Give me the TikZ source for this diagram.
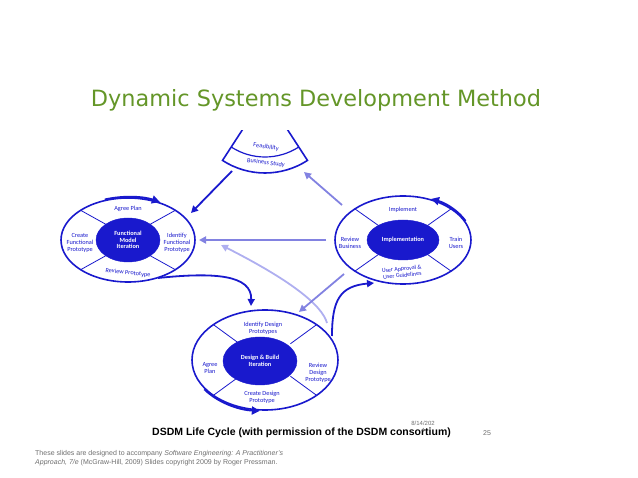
\documentclass[tikz,border=0pt]{standalone}
\usepackage{fontspec}
\setmainfont{Liberation Sans}
\newfontfamily\titlefont{DejaVu Sans}
\newfontfamily\lblfont{Carlito}
\usetikzlibrary{calc,arrows.meta}
\definecolor{dk}{RGB}{25,25,205}
\definecolor{md}{RGB}{130,130,225}
\definecolor{lt}{RGB}{175,175,240}
\definecolor{ttl}{RGB}{100,150,40}
\definecolor{gr}{RGB}{110,110,110}
\tikzset{
  ring/.style={draw=dk,line width=1.6pt,fill=white},
  core/.style={fill=dk,draw=dk},
  divline/.style={draw=dk,line width=0.8pt},
  lbl/.style={font=\lblfont\fontsize{6.3}{6.8}\selectfont,text=dk,align=center,inner sep=0pt},
  clbl/.style={font=\lblfont\bfseries\fontsize{6.3}{6.8}\selectfont,text=white,align=center,inner sep=0pt},
  darr/.style={draw=dk,line width=1.8pt,-{Triangle[length=7pt,width=7pt]}},
  marr/.style={draw=md,line width=1.8pt,-{Triangle[length=7pt,width=7pt]}},
  larr/.style={draw=lt,line width=1.8pt,-{Triangle[length=7pt,width=7pt]}},
  ringarr/.style={draw=dk,line width=2pt,-{Triangle[length=8pt,width=8pt]}},
}
\begin{document}
\begin{tikzpicture}[x=1pt,y=1pt]
\useasboundingbox (0,0) rectangle (638,-478);
\node (title) at (316,-100) {\titlefont\fontsize{22.4}{26}\selectfont\color{ttl}Dynamic Systems Development Method};
% feasibility wedge
\coordinate (apex) at (265,-95);
\begin{scope}
\clip (200,-131) rectangle (330,-180);
\filldraw[ring] (apex) -- ($(apex)+(-123:78)$) arc[start angle=-123,end angle=-57,radius=78] -- cycle;
\draw[divline,line width=1.2pt] ($(apex)+(-123:62)$) arc[start angle=-123,end angle=-57,radius=62];
\end{scope}
\node[lbl,rotate=-8] (feas) at (266,-147) {Feasibility};
\node[lbl,rotate=-8] (bus) at (266,-163) {Business Study};
% left ellipse
\coordinate (L) at (128,-240);
\draw[ring] (L) ellipse[x radius=67,y radius=42];
\foreach \a in {45,135,225,315}{\draw[divline] ($(L)+(\a:31 and 22)$) -- ($(L)+(\a:67 and 42)$);}
\fill[core] (L) ellipse[x radius=32,y radius=22];
\draw[ringarr] ($(L)+(110:68 and 43)$) arc[start angle=110,end angle=62,x radius=68,y radius=43];
\node[clbl] (Lc) at (L) {Functional\\Model\\Iteration};
\node[lbl] (L1) at (128,-209) {Agree Plan};
\node[lbl] (L2) at (80,-243) {Create\\Functional\\Prototype};
\node[lbl] (L3) at (177,-243) {Identify\\Functional\\Prototype};
\node[lbl,rotate=-6] (L4) at (128,-273) {Review Prototype};
% right ellipse
\coordinate (R) at (403,-240);
\draw[ring] (R) ellipse[x radius=68,y radius=44];
\foreach \a in {45,135,225,315}{\draw[divline] ($(R)+(\a:34 and 20)$) -- ($(R)+(\a:68 and 44)$);}
\fill[core] (R) ellipse[x radius=36,y radius=20];
\draw[ringarr] ($(R)+(25:69 and 45)$) arc[start angle=25,end angle=66,x radius=69,y radius=45];
\node[clbl] (Rc) at (R) {Implementation};
\node[lbl] (R1) at (403,-210) {Implement};
\node[lbl] (R2) at (350,-243) {Review\\Business};
\node[lbl] (R3) at (456,-243) {Train\\Users};
\node[lbl,rotate=6,font=\lblfont\fontsize{6}{6.4}\selectfont] (R4) at (402,-272) {User Approval \&\\User Guidelines};
% bottom ellipse
\coordinate (B) at (265,-360);
\draw[ring] (B) ellipse[x radius=73,y radius=50];
\foreach \a in {45,135,225,315}{\draw[divline] ($(B)+(\a:36 and 23)$) -- ($(B)+(\a:73 and 50)$);}
\fill[core] (260,-361) ellipse[x radius=37,y radius=24];
\draw[ringarr] ($(B)+(215:74 and 51)$) arc[start angle=215,end angle=266,x radius=74,y radius=51];
\node[clbl] (Bc) at (260,-361) {Design \& Build\\Iteration};
\node[lbl] (B1) at (263,-328) {Identify Design\\Prototypes};
\node[lbl] (B2) at (210,-368) {Agree\\Plan};
\node[lbl] (B3) at (318,-373) {Review\\Design\\Prototype};
\node[lbl] (B4) at (262,-397) {Create Design\\Prototype};
% connectors
\coordinate (wl) at (232,-171);
\coordinate (lt) at (191,-213);
\draw[darr] (wl) -- (lt);
\coordinate (rtl) at (342,-205);
\coordinate (wr) at (304,-172);
\draw[marr] (rtl) -- (wr);
\coordinate (rl) at (326,-240);
\coordinate (lr) at (199,-240);
\draw[marr] (rl) -- (lr);
\coordinate (brt) at (327,-323);
\coordinate (lbr) at (221,-245);
\draw[larr] (brt) .. controls (322,-305) and (290,-280) .. (lbr);
\coordinate (rbl) at (344,-274);
\coordinate (btr) at (299,-312);
\draw[marr] (rbl) -- (btr);
\coordinate (lb) at (158,-278);
\coordinate (bt) at (251,-306);
\draw[darr] (lb) .. controls (215,-272) and (252,-275) .. (bt);
\coordinate (br) at (332,-336);
\coordinate (rb) at (374,-283);
\draw[darr] (br) .. controls (332,-300) and (340,-286) .. (rb);
% footer
\node[font=\bfseries\fontsize{10.5}{12}\selectfont,anchor=west,inner sep=0pt] (cap) at (152,-433) {DSDM Life Cycle (with permission of the DSDM consortium)};
\node[font=\fontsize{6}{7}\selectfont,text=gr,align=center,inner sep=0pt] (date) at (423,-427) {8/14/202\\4};
\node[font=\fontsize{7}{8}\selectfont,text=gr,inner sep=0pt] (pg) at (487,-433) {25};
\node[font=\fontsize{7}{9}\selectfont,text=gr,align=left,anchor=north west,inner sep=0pt] (foot) at (35,-450) {These slides are designed to accompany \textit{Software Engineering: A Practitioner's}\\\textit{Approach, 7/e} (McGraw-Hill, 2009) Slides copyright 2009 by Roger Pressman.};
\end{tikzpicture}
\end{document}
